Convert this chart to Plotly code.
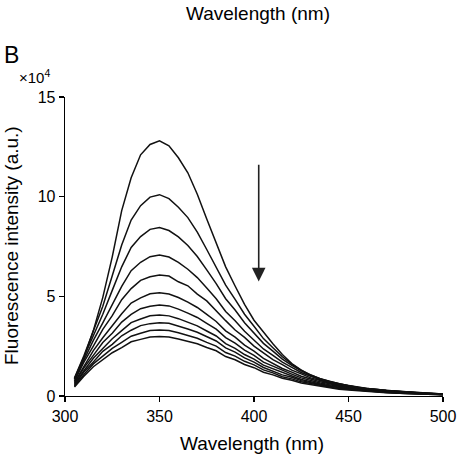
import plotly.graph_objects as go

# Emission wavelength (nm)
wavelength = [305, 310, 315, 320, 325, 330, 335, 340, 345, 350, 355, 360, 365, 370, 375,
              380, 385, 390, 395, 400, 405, 410, 415, 420, 425, 430, 435, 440, 445, 450,
              455, 460, 470, 480, 490, 500]

# Fluorescence intensity (x10^4 a.u.), one list per titration step (top -> bottom)
intensity_01 = [0.85, 1.92, 3.28, 4.95, 6.98, 9.3, 10.95, 12.1, 12.62, 12.8, 12.55, 11.95, 11.2, 10.12, 8.88,
                7.65, 6.48, 5.52, 4.6, 3.8, 3.18, 2.62, 2.08, 1.63, 1.3, 1.02, 0.8, 0.64, 0.52, 0.43,
                0.36, 0.3, 0.22, 0.16, 0.12, 0.08]
intensity_02 = [0.9, 2.02, 3.26, 4.5, 6.03, 7.58, 8.83, 9.55, 9.98, 10.1, 9.9, 9.47, 8.95, 8.22, 7.35,
                6.47, 5.56, 4.85, 4.1, 3.5, 2.88, 2.42, 1.97, 1.6, 1.29, 1.06, 0.87, 0.73, 0.62, 0.51,
                0.44, 0.37, 0.27, 0.2, 0.15, 0.1]
intensity_03 = [0.88, 1.95, 3.05, 4.1, 5.3, 6.48, 7.45, 8.0, 8.36, 8.45, 8.3, 7.98, 7.55, 7.0, 6.33,
                5.64, 4.88, 4.31, 3.68, 3.17, 2.64, 2.25, 1.85, 1.54, 1.26, 1.05, 0.87, 0.74, 0.61, 0.53,
                0.45, 0.38, 0.28, 0.21, 0.15, 0.1]
intensity_04 = [0.82, 1.8, 2.79, 3.67, 4.6, 5.5, 6.29, 6.71, 6.99, 7.07, 6.97, 6.7, 6.36, 5.94, 5.42,
                4.88, 4.24, 3.78, 3.25, 2.83, 2.36, 2.04, 1.7, 1.44, 1.18, 0.99, 0.84, 0.7, 0.6, 0.51,
                0.43, 0.37, 0.27, 0.2, 0.14, 0.1]
intensity_05 = [0.75, 1.7, 2.5, 3.34, 4.03, 4.83, 5.39, 5.8, 5.98, 6.07, 6.02, 5.73, 5.53, 5.11, 4.77,
                4.26, 3.78, 3.31, 2.94, 2.5, 2.15, 1.82, 1.57, 1.3, 1.11, 0.91, 0.78, 0.66, 0.55, 0.48,
                0.41, 0.35, 0.26, 0.19, 0.14, 0.09]
intensity_06 = [0.68, 1.5, 2.28, 2.92, 3.55, 4.13, 4.66, 4.92, 5.13, 5.18, 5.12, 4.94, 4.71, 4.44, 4.09,
                3.74, 3.27, 2.95, 2.55, 2.25, 1.89, 1.65, 1.38, 1.2, 0.99, 0.85, 0.71, 0.61, 0.51, 0.44,
                0.38, 0.32, 0.24, 0.18, 0.13, 0.09]
intensity_07 = [0.63, 1.41, 2.04, 2.68, 3.15, 3.71, 4.09, 4.38, 4.5, 4.57, 4.52, 4.36, 4.16, 3.94, 3.64,
                3.35, 2.93, 2.65, 2.3, 2.04, 1.7, 1.5, 1.26, 1.1, 0.91, 0.78, 0.65, 0.56, 0.47, 0.41,
                0.35, 0.3, 0.22, 0.16, 0.12, 0.08]
intensity_08 = [0.58, 1.27, 1.89, 2.39, 2.87, 3.28, 3.68, 3.86, 4.03, 4.06, 4.02, 3.88, 3.71, 3.52, 3.26,
                3.01, 2.63, 2.39, 2.08, 1.85, 1.55, 1.37, 1.15, 1.01, 0.83, 0.72, 0.6, 0.52, 0.44, 0.38,
                0.33, 0.28, 0.2, 0.15, 0.11, 0.08]
intensity_09 = [0.53, 1.2, 1.71, 2.24, 2.59, 3.02, 3.3, 3.53, 3.63, 3.68, 3.65, 3.52, 3.36, 3.2, 2.97,
                2.76, 2.41, 2.2, 1.91, 1.7, 1.43, 1.26, 1.06, 0.94, 0.77, 0.67, 0.56, 0.49, 0.41, 0.35,
                0.3, 0.26, 0.19, 0.14, 0.1, 0.07]
intensity_10 = [0.49, 1.08, 1.61, 2.01, 2.39, 2.69, 3.0, 3.15, 3.29, 3.31, 3.29, 3.17, 3.04, 2.9, 2.69,
                2.5, 2.18, 2.0, 1.74, 1.56, 1.31, 1.16, 0.97, 0.86, 0.71, 0.62, 0.51, 0.45, 0.37, 0.33,
                0.28, 0.24, 0.17, 0.13, 0.1, 0.06]
intensity_11 = [0.45, 0.99, 1.47, 1.83, 2.17, 2.43, 2.72, 2.84, 2.96, 2.98, 2.96, 2.86, 2.74, 2.62, 2.43,
                2.27, 1.98, 1.82, 1.58, 1.42, 1.19, 1.06, 0.89, 0.79, 0.65, 0.57, 0.47, 0.42, 0.34, 0.3,
                0.26, 0.22, 0.16, 0.12, 0.09, 0.06]

series = [intensity_01, intensity_02, intensity_03, intensity_04, intensity_05, intensity_06,
          intensity_07, intensity_08, intensity_09, intensity_10, intensity_11]

x_ticks = [300, 350, 400, 450, 500]
y_ticks = [0, 5, 10, 15]

# arrow (direction of decrease)
arrow_x = 402.5
arrow_from = 11.7
arrow_to = 5.75

FONT = "Liberation Sans, Arial, sans-serif"

L, T = 65, 97
W, H = 378.0, 299.0

fig = go.Figure()
for s in series:
    fig.add_trace(go.Scatter(x=wavelength, y=s, mode="lines",
                             line=dict(color="#111111", width=1.5),
                             showlegend=False, hoverinfo="skip"))

fig.update_layout(
    width=474, height=474,
    margin=dict(l=L, r=474 - L - W, t=T, b=474 - T - H),
    paper_bgcolor="white", plot_bgcolor="white",
    font=dict(family=FONT, size=16, color="black"),
    showlegend=False,
)
fig.update_xaxes(range=[300, 500], tickvals=x_ticks, ticktext=[str(v) for v in x_ticks],
                 showline=True, linecolor="black", linewidth=1.3, mirror=False,
                 ticks="outside", ticklen=5, tickwidth=1.3, tickcolor="black",
                 showgrid=False, zeroline=False, tickfont=dict(size=16))
fig.update_yaxes(range=[0, 15], tickvals=y_ticks, ticktext=[str(v) for v in y_ticks],
                 showline=True, linecolor="black", linewidth=1.3, mirror=False,
                 ticks="outside", ticklen=5, tickwidth=1.3, tickcolor="black",
                 showgrid=False, zeroline=False, tickfont=dict(size=16))

fig.add_annotation(x=arrow_x, y=arrow_to, ax=arrow_x, ay=arrow_from,
                   xref="x", yref="y", axref="x", ayref="y",
                   showarrow=True, arrowhead=2, arrowsize=1.7, arrowwidth=1.6,
                   arrowcolor="#222222", text=" ", font=dict(size=1))

def px(xp):
    return (xp - L) / W
def py(yp):
    return (T + H - yp) / H

fig.add_annotation(x=px(257.5), y=py(13.5), xref="paper", yref="paper", showarrow=False,
                   text="Wavelength (nm)", font=dict(size=19, family=FONT),
                   xanchor="center", yanchor="middle")
fig.add_annotation(x=px(251.5), y=py(443), xref="paper", yref="paper", showarrow=False,
                   text="Wavelength (nm)", font=dict(size=19, family=FONT),
                   xanchor="center", yanchor="middle")
fig.add_annotation(x=px(11), y=py(246), xref="paper", yref="paper", showarrow=False,
                   text="Fluorescence intensity (a.u.)", textangle=-90,
                   font=dict(size=19, family=FONT), xanchor="center", yanchor="middle")
fig.add_annotation(x=px(2), y=py(55), xref="paper", yref="paper", showarrow=False,
                   text="B", font=dict(size=23, family=FONT),
                   xanchor="left", yanchor="middle")
fig.add_annotation(x=px(17), y=py(76), xref="paper", yref="paper", showarrow=False,
                   text="×10<sup>4</sup>", font=dict(size=15, family=FONT),
                   xanchor="left", yanchor="middle")

fig.write_html("out.html",
               config={"displayModeBar": False, "staticPlot": True},
               post_script="document.body.style.margin='0';document.body.style.padding='0';")
